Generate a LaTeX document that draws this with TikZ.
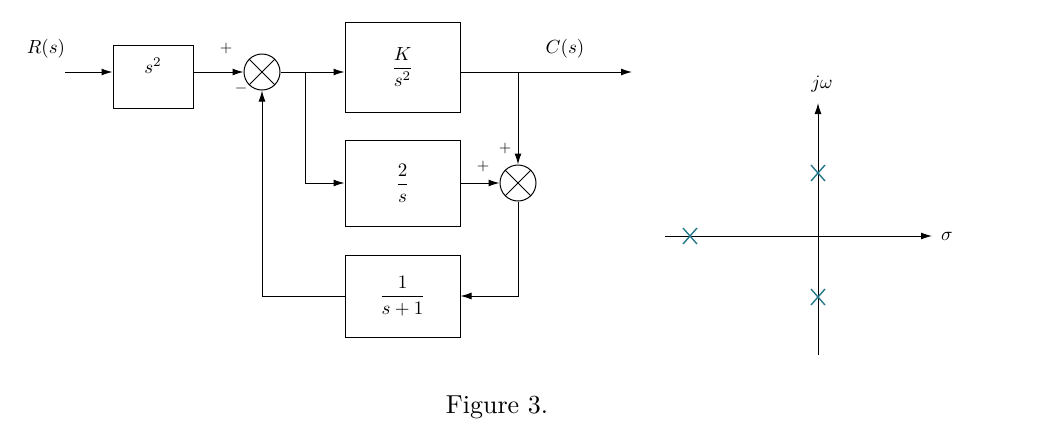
\documentclass[tikz,border=0pt]{standalone}
\usepackage{graphicx}
\usetikzlibrary{arrows.meta}
\definecolor{polec}{RGB}{40,120,140}
\newcommand{\BigT}[1]{\scalebox{1.9}{#1}}
\newcommand{\MidT}[1]{\scalebox{1.6}{#1}}
\begin{document}
\begin{tikzpicture}[x=1pt,y=-1pt,
  blk/.style={draw,line width=1pt,minimum width=115pt,minimum height=86pt,inner sep=0pt},
  sum/.style={draw,circle,line width=1pt,minimum size=36pt,inner sep=0pt,path picture={\draw[line width=1pt] (path picture bounding box.north west)--(path picture bounding box.south east) (path picture bounding box.north east)--(path picture bounding box.south west);}},
  ar/.style={line width=1pt,-{Latex[length=11pt,width=7pt]}},
  pole/.style={draw=polec,line width=1.4pt}]
\useasboundingbox (0,0) rectangle (1058,432);
\node (R) at (46,49) {\BigT{$R(s)$}};
\coordinate (in) at (65,72);
\node[blk,minimum width=80pt,minimum height=63pt] (b1) at (153,76.5) {};
\node at (153,66) {\BigT{$s^2$}};
\node[sum] (s1) at (262,72) {};
\node at (226,48) {\MidT{$+$}};
\node at (241,88) {\MidT{$-$}};
\node[blk,minimum height=90pt] (bK) at (402.5,67) {};
\node at (402.5,67) {\BigT{$\displaystyle\frac{K}{s^2}$}};
\node[blk] (b2) at (402.5,183) {};
\node at (402.5,183) {\BigT{$\displaystyle\frac{2}{s}$}};
\node[blk,minimum height=82pt] (b3) at (402.5,296) {};
\node at (402.5,296) {\BigT{$\displaystyle\frac{1}{s+1}$}};
\node[sum] (s2) at (518,183) {};
\node at (483,166) {\MidT{$+$}};
\node at (505,148) {\MidT{$+$}};
\node (C) at (565,49) {\BigT{$C(s)$}};
\coordinate (out) at (632,72);
\coordinate (p1) at (305,72);
\coordinate (p2) at (518,72);
\draw[ar] (in) -- (b1.west|-in);
\draw[ar] (b1.east|-in) -- (s1.west);
\draw[ar] (s1.east) -- (bK.west|-s1);
\draw[ar] (p1) -- (p1|-b2.west) -- (b2.west);
\draw[ar] (bK.east|-in) -- (out);
\draw[ar] (p2) -- (s2.north);
\draw[ar] (b2.east) -- (s2.west);
\draw[ar] (s2.south) -- (518,296) -- (b3.east);
\draw[ar] (b3.west) -- (262,296) -- (s1.south);
\coordinate (hx0) at (665,236); \coordinate (hx1) at (932,236);
\coordinate (vy0) at (818,355); \coordinate (vy1) at (818,103);
\draw[ar] (hx0) -- (hx1);
\draw[ar] (vy0) -- (vy1);
\node (sg) at (947,236) {\BigT{$\sigma$}};
\node (jw) at (822,84) {\BigT{$j\omega$}};
\foreach \x/\y in {690/236,818/173,818/297}
  \draw[pole] (\x-7,\y-8)--(\x+7,\y+8) (\x-7,\y+8)--(\x+7,\y-8);
\node (fig) at (497,407) {\scalebox{2.6}{Figure 3.}};
\end{tikzpicture}
\end{document}
